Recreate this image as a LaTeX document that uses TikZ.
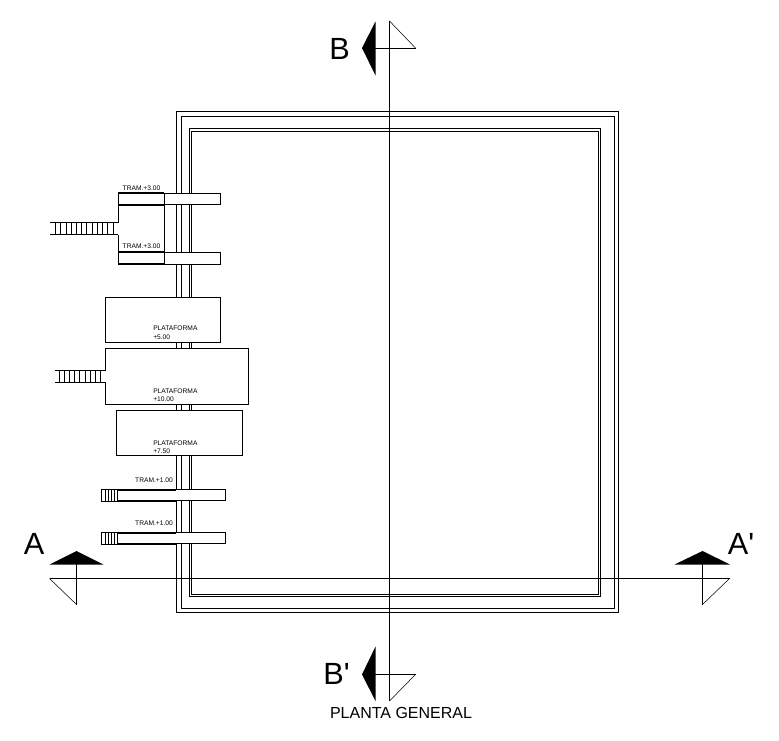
\documentclass[tikz,border=0pt]{standalone}
\usepackage{fontspec}
\setmainfont{Liberation Sans}
\tikzset{
  wall/.style={draw=black, line width=0.7pt},
  box/.style={draw=black, line width=0.7pt, fill=white},
  heavy/.style={draw=black, line width=1.5pt},
  cut/.style={draw=black, line width=0.7pt},
  thincut/.style={draw=black, line width=0.4pt},
  tiny/.style={draw=none, inner sep=0pt, font=\fontsize{5}{6}\selectfont},
  big/.style={draw=none, inner sep=0pt, font=\fontsize{23}{26}\selectfont},
}
\begin{document}
\begin{tikzpicture}[x=0.75pt, y=-0.75pt]
\useasboundingbox (0,0) rectangle (779,740);

% Building outline, four nested lines
\draw[wall] (176,111) rectangle (618,612);
\draw[wall] (181,116) rectangle (614,608);
\draw[wall] (189.5,128.5) rectangle (600.5,596.5);
\draw[wall] (191,131) rectangle (598.5,594.5);

% Upper ramps at +3.00
\draw[box] (164,193.5) rectangle (220.5,204.5);
\draw[box] (164,252.5) rectangle (220.5,264);
\draw[box] (118,222.5) -- (118,193) -- (164,193) -- (164,264) -- (118,264) -- (118,234.5);
\draw[wall] (118,193) rectangle (164,205);
\draw[wall] (118,252) rectangle (164,264);
\draw[heavy] (118,193) -- (164,193);
\draw[heavy] (118,205) -- (164,205);
\draw[heavy] (118,252) -- (164,252);
\draw[heavy] (118,264) -- (164,264);

% Upper stair
\coordinate (S1a) at (50,222.5);
\coordinate (S1b) at (118,222.5);
\coordinate (S1c) at (50,234.5);
\coordinate (S1d) at (118,234.5);
\draw[wall] (S1a) -- (S1b);
\draw[wall] (S1c) -- (S1d);
\draw[wall] (55.7,222.5) -- (55.7,234.5) (60.9,222.5) -- (60.9,234.5) (66.1,222.5) -- (66.1,234.5)
  (71.3,222.5) -- (71.3,234.5) (76.5,222.5) -- (76.5,234.5) (81.7,222.5) -- (81.7,234.5)
  (86.9,222.5) -- (86.9,234.5) (92.1,222.5) -- (92.1,234.5) (97.3,222.5) -- (97.3,234.5)
  (102.5,222.5) -- (102.5,234.5) (107.7,222.5) -- (107.7,234.5) (113,222.5) -- (113,234.5);

% Platforms
\draw[box] (105.5,297.5) rectangle (220.5,342.5);
\draw[box] (105.5,370.5) -- (105.5,348.5) -- (248.5,348.5) -- (248.5,404.5) -- (105.5,404.5) -- (105.5,382.5);
\draw[box] (116.5,410.5) rectangle (242.5,455.5);

% Middle stair
\coordinate (S2a) at (55,370.5);
\coordinate (S2b) at (105.5,370.5);
\coordinate (S2c) at (55,382.5);
\coordinate (S2d) at (105.5,382.5);
\draw[wall] (S2a) -- (S2b);
\draw[wall] (S2c) -- (S2d);
\draw[wall] (59,370.5) -- (59,382.5) (64.2,370.5) -- (64.2,382.5) (69.4,370.5) -- (69.4,382.5)
  (74.6,370.5) -- (74.6,382.5) (79.8,370.5) -- (79.8,382.5) (85,370.5) -- (85,382.5)
  (90.2,370.5) -- (90.2,382.5) (95.4,370.5) -- (95.4,382.5) (100.7,370.5) -- (100.7,382.5);

% Lower ramps at +1.00
\draw[box] (117.5,489.5) rectangle (225.5,500.5);
\draw[box] (117.5,532.5) rectangle (225.5,543.5);
\draw[heavy] (117.5,489.5) -- (176,489.5);
\draw[heavy] (117.5,501) -- (176,501);
\draw[heavy] (117.5,532.5) -- (176,532.5);
\draw[heavy] (117.5,544) -- (176,544);
\draw[wall] (101.5,489.5) rectangle (117.5,501);
\draw[wall] (105,489.5) -- (105,501) (108,489.5) -- (108,501) (111,489.5) -- (111,501) (114,489.5) -- (114,501);
\draw[wall] (101.5,532.5) rectangle (117.5,544);
\draw[wall] (105,532.5) -- (105,544) (108,532.5) -- (108,544) (111,532.5) -- (111,544) (114,532.5) -- (114,544);

% Small labels
\node[tiny] at (141.5,188.5) {TRAM.+3.00};
\node[tiny] at (141.5,246.5) {TRAM.+3.00};
\node[tiny, anchor=west] at (153,328.5) {PLATAFORMA};
\node[tiny, anchor=west] at (153,337.5) {+5.00};
\node[tiny, anchor=west] at (153,391) {PLATAFORMA};
\node[tiny, anchor=west] at (153,399) {+10.00};
\node[tiny, anchor=west] at (153,443) {PLATAFORMA};
\node[tiny, anchor=west] at (153,451) {+7.50};
\node[tiny] at (154,480.5) {TRAM.+1.00};
\node[tiny] at (154,523.5) {TRAM.+1.00};

% Section line A - A'
\coordinate (A) at (49.5,578.5);
\coordinate (Ap) at (729.5,578.5);
\coordinate (Atop) at (76.5,551);
\coordinate (Abot) at (76.5,604.5);
\coordinate (Aptop) at (702.5,551);
\coordinate (Apbot) at (702.5,604.5);
\draw[cut] (A) -- (Ap);
\draw[cut] (Atop) -- (Abot);
\draw[cut] (Aptop) -- (Apbot);
\draw[thincut] (A) -- (Abot);
\draw[thincut] (Ap) -- (Apbot);
\fill[black] (49.5,564.5) -- (Atop) -- (103.5,564.5) -- cycle;
\fill[black] (674.5,564.5) -- (Aptop) -- (730,564.5) -- cycle;

% Section line B - B'
\coordinate (B) at (389.5,21);
\coordinate (Bp) at (389.5,701);
\coordinate (Btip) at (362,48);
\coordinate (Bside) at (415.5,48);
\coordinate (Bptip) at (362,674.5);
\coordinate (Bpside) at (415.5,674.5);
\draw[cut] (B) -- (Bp);
\draw[cut] (Btip) -- (Bside);
\draw[cut] (Bptip) -- (Bpside);
\draw[thincut] (B) -- (Bside);
\draw[thincut] (Bp) -- (Bpside);
\fill[black] (375.5,21.5) -- (Btip) -- (375.5,75.5) -- cycle;
\fill[black] (375.5,646.5) -- (Bptip) -- (375.5,701) -- cycle;

% Section names and title
\node[big] at (34,544) {A};
\node[big] at (741,544) {A\textquotesingle};
\node[big] at (339.5,49) {B};
\node[big] at (336.5,674) {B\textquotesingle};
\node[draw=none, inner sep=0pt, font=\fontsize{12}{14}\selectfont] at (401,712.5) {PLANTA GENERAL};
\end{tikzpicture}
\end{document}
